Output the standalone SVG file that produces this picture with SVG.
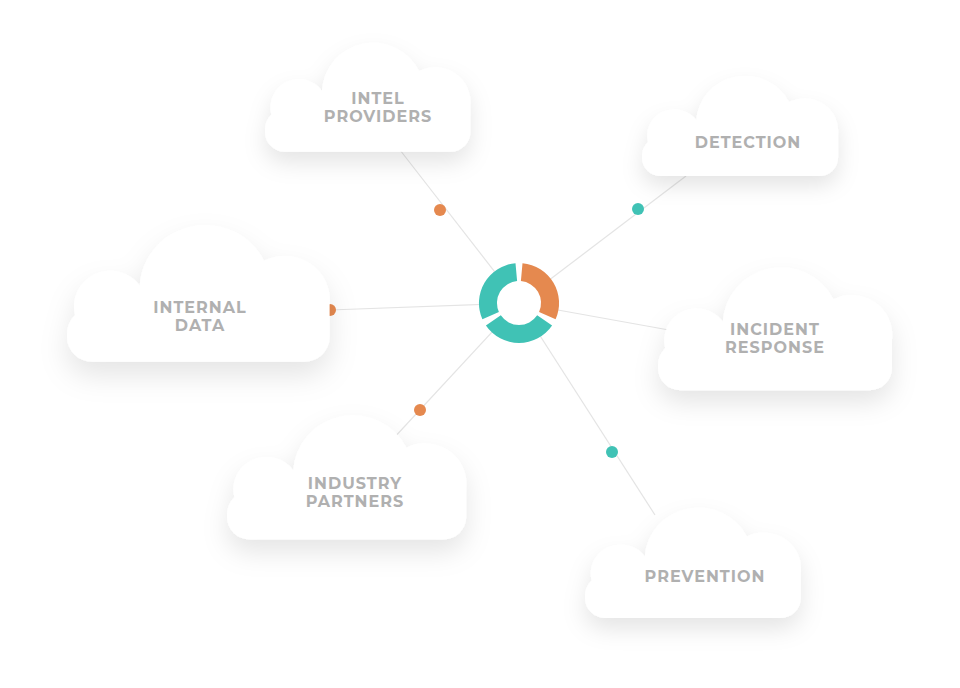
<svg xmlns="http://www.w3.org/2000/svg" width="960" height="688" viewBox="0 0 960 688">
<defs>
<filter id="sh" x="-30%" y="-30%" width="160%" height="180%"><feDropShadow dx="0" dy="14" stdDeviation="14" flood-color="#000" flood-opacity="0.10"/></filter>
<path id="cloud" d="M25 135H235A25 25 0 0 0 260 110V78A45 45 0 0 0 195 33A65 65 0 0 0 72 58A36 36 0 0 0 8 88A28 28 0 0 0 0 108V110A25 25 0 0 0 25 135Z"/>
</defs>
<style>
.c{fill:#fff;filter:url(#sh)}
.t{font-family:"Montserrat","Liberation Sans",Arial,sans-serif;font-weight:bold;font-size:16px;fill:#b0b0b0;text-anchor:middle;letter-spacing:1px}
.ln{stroke:#e4e4e4;stroke-width:1.2;fill:none}
.o{fill:#E5894F}.g{fill:#40C2B5}
</style>
<rect width="960" height="688" fill="#fff"/>
<g id="connectors">
<line class="ln" x1="519" y1="303" x2="400" y2="150"/>
<line class="ln" x1="519" y1="303" x2="686" y2="176"/>
<line class="ln" x1="519" y1="303" x2="330" y2="310"/>
<line class="ln" x1="519" y1="303" x2="680" y2="332"/>
<line class="ln" x1="519" y1="303" x2="392" y2="440"/>
<line class="ln" x1="519" y1="303" x2="655" y2="515"/>
<circle class="o" cx="440" cy="210" r="6"/>
<circle class="g" cx="638" cy="209" r="6"/>
<circle class="o" cx="330" cy="310" r="6"/>
<circle class="o" cx="420" cy="410" r="6"/>
<circle class="g" cx="612" cy="452" r="6"/>
</g>
<g id="intel"><use href="#cloud" class="c" transform="translate(265,45) scale(0.79,0.79)"/><text class="t" x="378" y="104">INTEL</text><text class="t" x="378" y="122">PROVIDERS</text></g>
<g id="detection"><use href="#cloud" class="c" transform="translate(642,78) scale(0.754,0.726)"/><text class="t" x="748" y="148">DETECTION</text></g>
<g id="internal"><use href="#cloud" class="c" transform="translate(67,228) scale(1.01,0.99)"/><text class="t" x="200" y="313">INTERNAL</text><text class="t" x="200" y="331">DATA</text></g>
<g id="incident"><use href="#cloud" class="c" transform="translate(658,270) scale(0.9,0.89)"/><text class="t" x="775" y="335">INCIDENT</text><text class="t" x="775" y="353">RESPONSE</text></g>
<g id="industry"><use href="#cloud" class="c" transform="translate(227,418) scale(0.92,0.9)"/><text class="t" x="355" y="489">INDUSTRY</text><text class="t" x="355" y="507">PARTNERS</text></g>
<g id="prevention"><use href="#cloud" class="c" transform="translate(585,510) scale(0.83,0.8)"/><text class="t" x="705" y="582">PREVENTION</text></g>
<g id="hub" transform="translate(519,303)">
<circle r="40" fill="#fff"/>
<path class="o" d="M3.5 -39.8A40 40 0 0 1 36.6 16.3L20.1 9A22 22 0 0 0 1.9 -21.9Z"/>
<path class="g" d="M33.1 22.4A40 40 0 0 1 -33.1 22.4L-18.2 12.3A22 22 0 0 0 18.2 12.3Z"/>
<path class="g" d="M-36.6 16.3A40 40 0 0 1 -3.5 -39.8L-1.9 -21.9A22 22 0 0 0 -20.1 9Z"/>
</g>
</svg>
